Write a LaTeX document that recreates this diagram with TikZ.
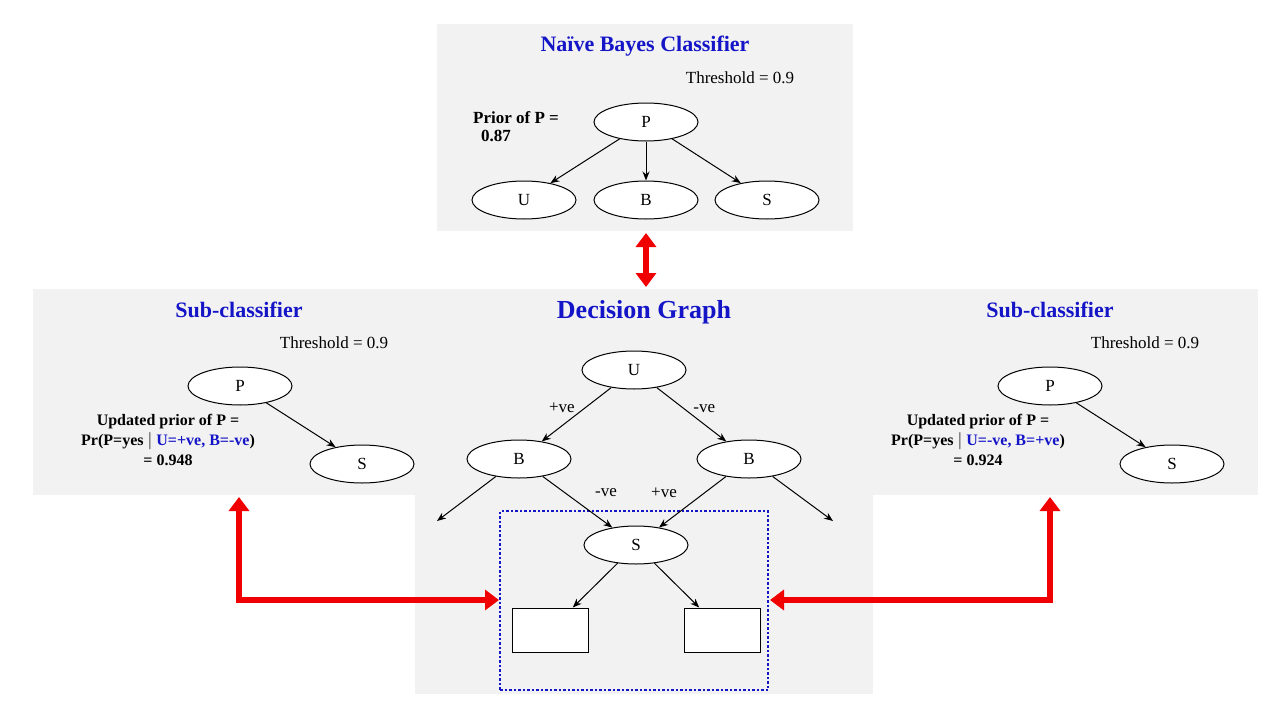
\documentclass[tikz,border=0pt]{standalone}
\usepackage{fontspec}
\setmainfont{Liberation Serif}
\usetikzlibrary{arrows.meta,shapes.geometric}
\definecolor{bg}{HTML}{F2F2F2}
\definecolor{tb}{HTML}{1515C8}
\definecolor{rd}{HTML}{F00000}
\begin{document}
\begin{tikzpicture}[x=1pt,y=-1pt,
 every node/.style={font=\fontsize{17}{20}\selectfont},
 el/.style={draw,ellipse,minimum width=104pt,minimum height=38pt,inner sep=0pt,fill=white,line width=1pt},
 ttl/.style={font=\fontsize{22}{26}\selectfont\bfseries,text=tb},
 box/.style={fill=bg,draw=none},
 ar/.style={-{Stealth[length=9pt,width=7pt]},line width=1pt},
 redar/.style={{Triangle[length=14pt,width=20pt]}-{Triangle[length=14pt,width=20pt]},draw=rd,line width=6pt}]
\useasboundingbox (0,0) rectangle (1280,720);
% top box
\fill[box] (437,24) rectangle (853,231);
\node[ttl] (t1) at (645,46) {Naïve Bayes Classifier};
\node (th1) at (740,78) {Threshold = 0.9};
\node[font=\fontsize{17}{20}\selectfont\bfseries,align=center] (pr1) at (516,127) {Prior of P =\\[-2pt]\hspace*{-40pt}0.87};
\node[el] (P1) at (646,122) {P};
\node[el] (U1) at (524,200) {U};
\node[el] (B1) at (646,200) {B};
\node[el] (S1) at (767,200) {S};
\draw[ar] (P1) -- (U1); \draw[ar] (P1) -- (B1); \draw[ar] (P1) -- (S1);
% left box
\fill[box] (33,289) rectangle (415,495);
\node[ttl] (t2) at (239,310) {Sub-classifier};
\node (th2) at (334,343) {Threshold = 0.9};
\node[el] (P2) at (240,386) {P};
\node[el] (S2) at (362,464) {S};
\draw[ar] (P2) -- (S2);
\node[align=center,font=\fontsize{16}{20}\selectfont\bfseries] (up2) at (168,440) {Updated prior of P =\\Pr(P=yes $|$ \textcolor{tb}{U=+ve, B=-ve})\\= 0.948};
% right box
\fill[box] (873,289) rectangle (1258,495);
\node[ttl] (t3) at (1050,310) {Sub-classifier};
\node (th3) at (1145,343) {Threshold = 0.9};
\node[el] (P3) at (1050,386) {P};
\node[el] (S3) at (1172,464) {S};
\draw[ar] (P3) -- (S3);
\node[align=center,font=\fontsize{16}{20}\selectfont\bfseries] (up3) at (978,440) {Updated prior of P =\\Pr(P=yes $|$ \textcolor{tb}{U=-ve, B=+ve})\\= 0.924};
% decision box
\fill[box] (415,289) rectangle (873,694);
\node[ttl,font=\fontsize{26}{30}\selectfont\bfseries] (t4) at (644,312) {Decision Graph};
\node[el] (U) at (634,370) {U};
\node[el] (BL) at (519,459) {B};
\node[el] (BR) at (749,459) {B};
\node[el] (S) at (636,545) {S};
\node[draw,fill=white,line width=1pt,minimum width=76pt,minimum height=44pt] (RL) at (550,630) {};
\node[draw,fill=white,line width=1pt,minimum width=76pt,minimum height=44pt] (RR) at (722,630) {};
\node[draw=tb,dotted,line width=2.5pt,minimum width=268pt,minimum height=179pt] (dot) at (634,600.5) {};
\coordinate (eL) at (437,521);
\coordinate (eR) at (833,521);
\draw[ar] (U) -- node[pos=0.5,above left=-2pt] (l1) {+ve} (BL);
\draw[ar] (U) -- node[pos=0.5,above right=-2pt] (l2) {-ve} (BR);
\draw[ar] (BL) -- (eL);
\draw[ar] (BL) -- (S);
\draw[ar] (BR) -- (S);
\draw[ar] (BR) -- (eR);
\node (l3) at (606,493) {-ve};
\node (l4) at (664,493) {+ve};
\draw[ar] (S) -- (RL);
\draw[ar] (S) -- (RR);
% red arrows
\coordinate (a1) at (646,233); \coordinate (a2) at (646,287);
\draw[redar] (a1) -- (a2);
\coordinate (b1) at (239,497); \coordinate (b2) at (499,600);
\draw[redar] (b1) |- (b2);
\coordinate (c1) at (1050,497); \coordinate (c2) at (770,600);
\draw[redar] (c1) |- (c2);
\end{tikzpicture}
\end{document}
